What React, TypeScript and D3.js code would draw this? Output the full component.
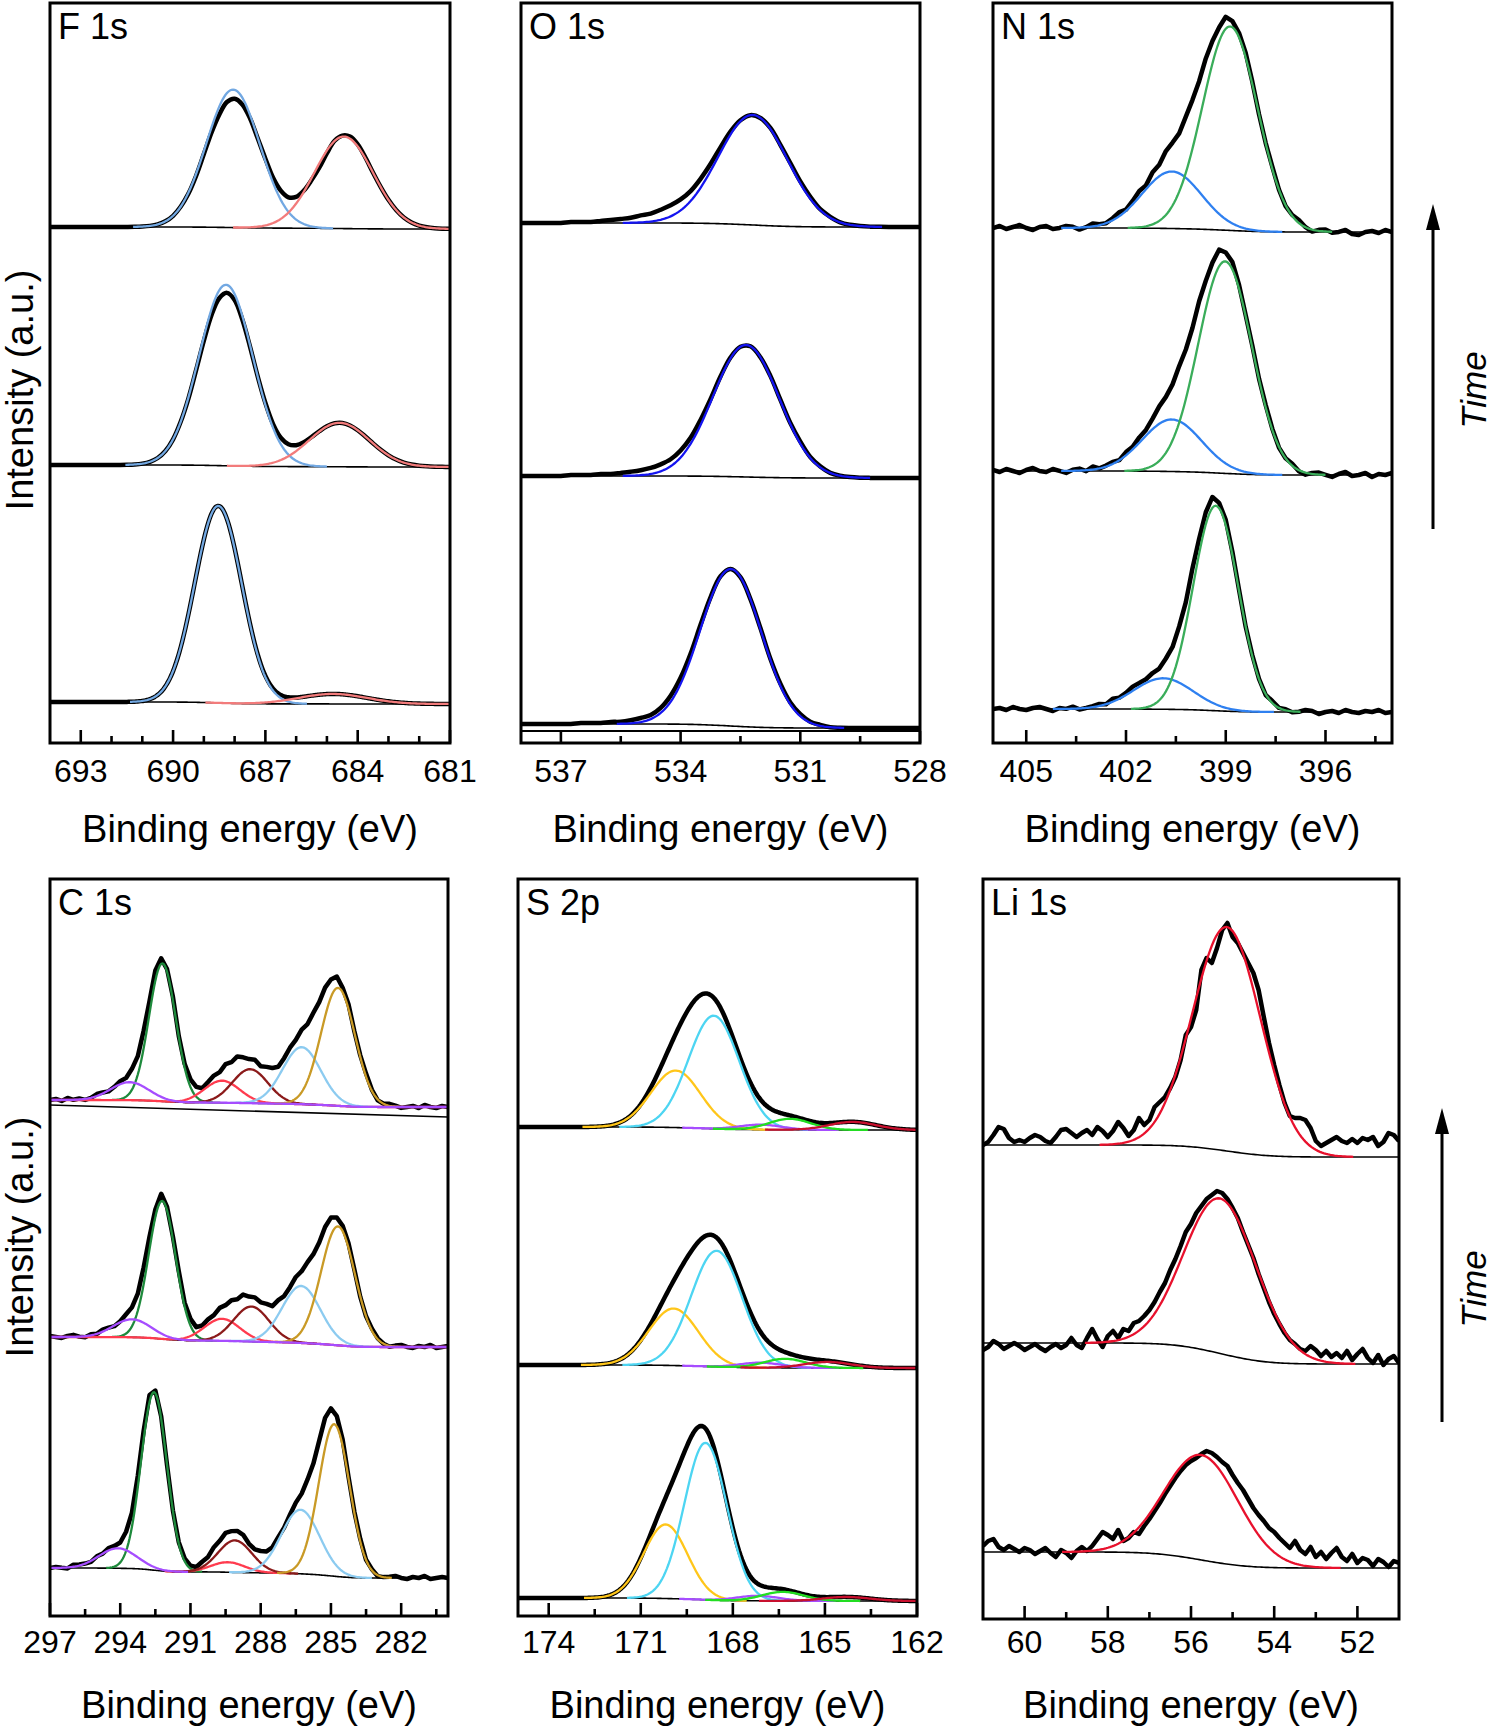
import React from "react";
import * as d3 from "d3";

// Binding-energy windows, plotted high -> low
const F1S_RANGE = [694, 681];
const O1S_RANGE = [538, 528];
const N1S_RANGE = [406, 394];
const C1S_RANGE = [297, 280];
const S2P_RANGE = [175, 162];
const LI1S_RANGE = [61, 51];

// Tick labels and minor ticks
const F1S_TICKS = [693, 690, 687, 684, 681];
const F1S_MINOR = [692, 691, 689, 688, 686, 685, 683, 682];
const O1S_TICKS = [537, 534, 531, 528];
const O1S_MINOR = [535.5, 532.5, 529.5];
const N1S_TICKS = [405, 402, 399, 396];
const N1S_MINOR = [403.5, 400.5, 397.5, 394.5];
const C1S_TICKS = [297, 294, 291, 288, 285, 282];
const C1S_MINOR = [295.5, 292.5, 289.5, 286.5, 283.5, 280.5];
const S2P_TICKS = [174, 171, 168, 165, 162];
const S2P_MINOR = [172.5, 169.5, 166.5, 163.5];
const LI1S_TICKS = [60, 58, 56, 54, 52];
const LI1S_MINOR = [59, 57, 55, 53];

// Fitted components per spectrum (top = latest): [centre eV, height, FWHM eV, half-range drawn]
const F1S_FITS = [
  [[688.05, 138, 2.05], [684.45, 92, 2.25]],
  [[688.28, 181, 2.05], [684.59, 44, 2.3]],
  [[688.53, 197, 1.8], [684.8, 10, 2.6]],
];
const F1S_BG = [[3, 1], [3, 1], [4, 2]];
// measured minus fit, every 0.25 eV from 694 eV
const F1S_RESID = [
  [0, 0, 0, 0, 0, 0, 0, 0, 0, 0, 0, 0, 0, 0, 0, 0, 0, 0, -1, -2, -3, -5, -8, -9, -9, -7, -4, -2, 0, 0, 0, -1, -2, -3, -4, -5, -3, 0, 1, 2, 2, 1, 0, 0, 0, 0, 0, 0, 0, 0, 0, 0, 0],
  [0, 0, 0, 0, 0, 0, 0, 0, 0, 0, 0, 0, 0, 0, 0, 0, 0, 0, -1, -2, -4, -6, -8, -8, -6, -4, -2, -1, 0, 0, 0, 0, 0, 0, 0, 0, 0, 0, 0, 0, 0, 0, 0, 0, 0, 0, 0, 0, 0, 0, 0, 0, 0],
  null,
];

const O1S_FITS = [[[532.19, 110, 2.05]], [[532.36, 132, 1.95]], [[532.74, 157, 1.8]]];
const O1S_BG = [[6, 2], [4, 2], [6, 2]];
// measured minus fit, every 0.25 eV from 538 eV
const O1S_RESID = [
  [0, 0, 0, 0, 0, 1, 1, 1, 2, 3, 4, 5, 7, 8, 10, 11, 11, 10, 9, 7, 5, 3, 1, 0, 0, 1, 1, 2, 2, 2, 1, 1, 0, 0, 0, 0, 0, 0, 0, 0, 0],
  [0, 0, 0, 0, 0, 1, 1, 1, 2, 2, 3, 4, 5, 6, 7, 7, 7, 6, 5, 3, 2, 1, 0, 0, 0, 1, 1, 1, 2, 1, 1, 0, 0, 0, 0, 0, 0, 0, 0, 0, 0],
  [0, 0, 0, 0, 0, 0, 1, 1, 1, 2, 2, 3, 4, 4, 5, 6, 6, 5, 4, 2, 1, 0, 0, 0, 1, 1, 2, 2, 2, 1, 1, 0, 0, 0, 0, 0, 0, 0, 0, 0, 0],
];

const N1S_FITS = [
  [[400.62, 57, 2.1], [398.87, 204, 1.95]],
  [[400.62, 52, 2.1], [399.02, 212, 1.9]],
  [[400.88, 31, 2.1], [399.3, 205, 1.6]],
];
const N1S_BG = [[6, 2], [6, 2], [5, 2]];
// measured minus fit, every 0.2 eV from 406 eV
const N1S_RESID = [
  [0, 2, -1, 1, 3, 0, -2, 1, 2, -1, 0, 2, 1, -2, 0, 3, 1, 0, 2, 4, 1, 3, 5, 2, 6, 4, 8, 6, 3, 5, 4, 2, 3, 0, -2, 1, -1, 0, 2, 1, -1, 0, 2, 0, -1, 1, 3, 0, -2, 1, 2, -1, 0, 2, -2, -3, 0, 1, -1, 2, 0],
  [1, -1, 2, 0, -2, 1, 3, 0, -1, 2, 0, -2, 1, 2, -1, 3, 0, 1, 2, 0, 3, 2, 4, 3, 5, 7, 5, 4, 6, 3, 2, 4, 1, 0, 2, -1, 1, 0, -1, 1, 0, 2, 1, -1, 0, 2, -1, -2, 1, 2, 0, -2, 1, 3, -1, 0, 2, -2, 1, 0, 2],
  [0, 1, -1, 2, 0, -1, 1, 2, 0, -2, 1, 0, 2, -1, 0, 1, 2, 0, 3, 1, 2, 4, 3, 2, 3, 1, 2, 0, 1, -1, 2, 0, 1, 3, 0, 2, 1, 0, -1, 1, 0, -1, 2, 0, 1, -1, 0, 2, 1, -2, 0, 1, -1, 2, 0, -1, 1, 0, 2, -1, 0],
];

// order: green, red, dark red, light blue, gold, then purple on top
const C1S_FITS = [
  [[292.2, 138, 1.35], [289.65, 22, 1.78, 99], [288.45, 34, 1.78], [286.25, 57, 1.92], [284.7, 118, 1.71], [293.6, 18, 1.9, 99]],
  [[292.21, 138, 1.35], [289.65, 22, 1.78, 99], [288.4, 35, 1.78], [286.27, 57, 1.92], [284.7, 119, 1.71], [293.5, 18, 1.9, 99]],
  [[292.56, 178, 1.3], [289.4, 10, 1.7], [289.1, 32, 1.7], [286.3, 64, 1.92], [284.86, 152, 1.55], [294.1, 20, 1.9]],
];
const C1S_BG = [[20, 13], [13, 3], [14, 4]];
const C1S_BASE = [[15, 3], null, null];
// measured minus fit, every 0.25 eV from 297 eV
const C1S_RESID = [
  [0, 1, -1, 2, 0, 1, -1, 0, 2, 1, -1, 0, 2, 1, 3, 2, 4, 2, 3, 1, 0, 2, -1, 1, 3, 2, 0, 2, 3, 1, 4, 2, 5, 3, 2, 4, 1, 3, 2, 0, 2, 4, 3, 5, 2, 3, 1, 2, 0, 1, -1, 2, 0, 1, 3, 1, -1, 0, 2, 1, -1, 0, 1, -1, 2, 0, -1, 1, 0],
  [1, 0, -1, 1, 2, 0, -1, 1, 0, 2, 1, -1, 0, 2, 1, 0, 2, 1, -1, 2, 0, 1, 3, 1, 2, 0, 1, 3, 2, 4, 2, 3, 1, 4, 2, 3, 1, 2, 0, 3, 1, 2, 4, 2, 3, 1, 0, 2, 1, -1, 0, 2, 1, -1, 0, 2, 1, 0, -1, 1, 2, 0, -1, 1, 0, 2, -1, 0, 1],
  [0, 1, 0, -1, 2, 1, 0, -1, 1, 0, 2, 1, 0, 1, -1, 0, 1, 2, 0, 1, -1, 0, 1, 2, 1, 0, 2, 1, 3, 1, 2, 0, 1, 2, 0, 1, 3, 2, 1, 2, 0, 1, 2, 0, 1, -1, 0, 2, 1, 0, 1, -1, 0, 2, 0, 1, -1, 0, 1, 2, 0, -1, 1, 0, 2, -1, 0, 1, 0],
];

const S2P_FITS = [
  [[169.86, 57, 1.9], [168.62, 113, 1.95], [167.1, 5, 1.6], [166.14, 11, 1.6], [164.1, 8, 1.8]],
  [[169.93, 57, 1.9], [168.53, 116, 1.95], [167.1, 5, 1.6], [166.3, 9, 1.6], [164.9, 6, 1.8]],
  [[170.19, 74, 1.68], [168.89, 157, 1.63], [167.2, 5, 1.6], [166.37, 9, 1.6], [164.3, 4, 1.8]],
];
const S2P_BG = [[5, 2], [5, 2], [4, 1]];

const LI1S_FITS = [[[55.14, 224, 1.92]], [[55.3, 155, 2.05]], [[55.75, 105, 2.1]]];
const LI1S_BG = [[15, 3], [23, 2], [20, 4]];
// measured counts, every 0.125 eV from 61 eV
const LI1S_RAW = [
  [15, 18, 25, 33, 31, 22, 18, 20, 18, 22, 25, 23, 19, 17, 23, 30, 31, 27, 23, 27, 30, 25, 33, 29, 23, 29, 38, 32, 24, 30, 42, 35, 40, 53, 58, 63, 72, 83, 100, 125, 133, 150, 190, 202, 197, 212, 230, 237, 223, 217, 207, 197, 187, 170, 143, 117, 95, 75, 57, 44, 42, 42, 40, 32, 19, 14, 17, 20, 23, 19, 17, 21, 17, 22, 20, 23, 14, 18, 27, 25, 19],
  [16, 19, 25, 22, 17, 20, 23, 20, 16, 19, 22, 18, 15, 19, 22, 18, 21, 28, 21, 18, 28, 37, 27, 19, 30, 35, 28, 37, 35, 43, 45, 50, 56, 64, 74, 83, 96, 107, 120, 134, 142, 153, 160, 167, 171, 175, 173, 167, 158, 148, 134, 121, 108, 92, 78, 64, 52, 42, 33, 26, 22, 17, 15, 20, 16, 10, 15, 9, 13, 8, 15, 6, 12, 17, 8, 3, 11, 1, 7, 10, 3],
  [26, 31, 33, 25, 22, 26, 23, 20, 24, 22, 18, 21, 24, 19, 15, 22, 19, 14, 21, 25, 21, 26, 33, 40, 37, 33, 42, 31, 34, 40, 38, 46, 53, 61, 69, 78, 86, 94, 101, 107, 111, 114, 118, 121, 119, 115, 110, 106, 97, 89, 82, 73, 64, 57, 51, 44, 40, 34, 29, 24, 31, 22, 18, 25, 15, 20, 13, 19, 24, 15, 11, 18, 9, 14, 12, 6, 13, 10, 5, 11, 9],
];

const FONT = "'Liberation Sans', Arial, Helvetica, sans-serif";

function erf(x: number) {
  const t = 1 / (1 + 0.3275911 * Math.abs(x));
  const y = 1 - ((((1.061405429 * t - 1.453152027) * t + 1.421413741) * t - 0.284496736) * t + 0.254829592) * t * Math.exp(-x * x);
  return x >= 0 ? y : -y;
}

const gauss = (e: number, p: number[]) => p[1] * Math.exp((-4 * Math.LN2 * (e - p[0]) ** 2) / (p[2] * p[2]));

// Shirley-like step between the high-BE and low-BE background levels
function shirley(e: number, peaks: number[][], bg: number[]) {
  let num = 0;
  let den = 0;
  for (const p of peaks) {
    const s = p[2] / 2.3548;
    const a = p[1] * s;
    num += a * 0.5 * (1 + erf((e - p[0]) / (s * Math.SQRT2)));
    den += a;
  }
  return bg[1] + (bg[0] - bg[1]) * (num / den);
}

type Spec = { peaks: number[][]; bg: number[]; raw?: number[]; resid?: number[] | null; base?: number[] | null };
type PanelCfg = {
  name: string;
  range: number[];
  ticks: number[];
  minor: number[];
  colors: string[];
  spectra: Spec[];
  step: number;
  curve: d3.CurveFactory;
  x0: number;
  x1: number;
  top: number;
  bottom: number;
  zero: number[];
  tickY: number;
  titleY: number;
  axisY?: number;
};

const specs = (fits: number[][][], bgs: number[][], extra?: (k: number) => Partial<Spec>): Spec[] =>
  fits.map((peaks, k) => ({ peaks, bg: bgs[k], ...(extra ? extra(k) : {}) }));

const ROW1 = { top: 3, bottom: 743, tickY: 782, titleY: 842 };
const ROW2 = { top: 879, bottom: 1616, tickY: 1653, titleY: 1718 };

const PANELS: PanelCfg[] = [
  {
    name: "F 1s", range: F1S_RANGE, ticks: F1S_TICKS, minor: F1S_MINOR,
    colors: ["#72a8e2", "#f27b7b"], spectra: specs(F1S_FITS, F1S_BG, (k) => ({ resid: F1S_RESID[k] })),
    step: 0.25, curve: d3.curveCatmullRom, x0: 50, x1: 450, ...ROW1, zero: [230, 468, 706],
  },
  {
    name: "O 1s", range: O1S_RANGE, ticks: O1S_TICKS, minor: O1S_MINOR,
    colors: ["#1414f0"], spectra: specs(O1S_FITS, O1S_BG, (k) => ({ resid: O1S_RESID[k] })),
    step: 0.25, curve: d3.curveCatmullRom, x0: 521, x1: 920, ...ROW1, zero: [229, 480, 730], axisY: 731,
  },
  {
    name: "N 1s", range: N1S_RANGE, ticks: N1S_TICKS, minor: N1S_MINOR,
    colors: ["#2f80f0", "#3aad5a"], spectra: specs(N1S_FITS, N1S_BG, (k) => ({ resid: N1S_RESID[k] })),
    step: 0.2, curve: d3.curveLinear, x0: 993, x1: 1392, ...ROW1, zero: [234, 477, 714],
  },
  {
    name: "C 1s", range: C1S_RANGE, ticks: C1S_TICKS, minor: C1S_MINOR,
    colors: ["#1e8a3c", "#ff3b4e", "#8b1a1a", "#8ccbf0", "#c99a26", "#a64dff"],
    spectra: specs(C1S_FITS, C1S_BG, (k) => ({ base: C1S_BASE[k], resid: C1S_RESID[k] })),
    step: 0.25, curve: d3.curveLinear, x0: 50, x1: 448, ...ROW2, zero: [1120, 1350, 1582],
  },
  {
    name: "S 2p", range: S2P_RANGE, ticks: S2P_TICKS, minor: S2P_MINOR,
    colors: ["#ffc61a", "#4dd5f2", "#a64dff", "#22dd22", "#c8102e"], spectra: specs(S2P_FITS, S2P_BG),
    step: 0.05, curve: d3.curveLinear, x0: 518, x1: 917, ...ROW2, zero: [1132, 1370, 1602],
  },
  {
    name: "Li 1s", range: LI1S_RANGE, ticks: LI1S_TICKS, minor: LI1S_MINOR,
    colors: ["#e8112d"], spectra: specs(LI1S_FITS, LI1S_BG, (k) => ({ raw: LI1S_RAW[k] })),
    step: 0.125, curve: d3.curveLinear, x0: 983, x1: 1399, ...ROW2, bottom: 1619, zero: [1160, 1366, 1572],
  },
];

function SpectraPanel({ cfg }: { cfg: PanelCfg }) {
  const [hi, lo] = cfg.range;
  const x = d3.scaleLinear().domain(cfg.range).range([cfg.x0, cfg.x1]);
  const fine = d3.range(hi, lo - 1e-6, -0.05);
  const clipId = "clip-" + cfg.name.replace(/\s/g, "");

  const traces = cfg.spectra.map((s, k) => {
    const zero = cfg.zero[k];
    const y = d3.scaleLinear().domain([0, 100]).range([zero, zero - 100]);
    const line = d3.line<number[]>().x((d) => x(d[0])).y((d) => y(d[1]));
    const bgAt = (e: number) => shirley(e, s.peaks, s.bg);
    const fit = (e: number) => bgAt(e) + d3.sum(s.peaks, (p) => gauss(e, p));

    let measured: number[][];
    if (s.raw) measured = s.raw.map((v, i) => [hi - i * cfg.step, v]);
    else if (s.resid) measured = s.resid.map((r, i) => {
      const e = hi - i * cfg.step;
      return [e, fit(e) + r];
    });
    else measured = fine.map((e) => [e, fit(e)]);

    const comps = s.peaks.map((p) => {
      const reach = p[3] ?? 1.6 * p[2];
      const pts = fine.filter((e) => Math.abs(e - p[0]) <= reach).map((e) => [e, bgAt(e) + gauss(e, p)]);
      return line(pts);
    });

    return (
      <g key={k}>
        <path d={line.curve(cfg.curve)(measured) ?? ""} fill="none" stroke="#000" strokeWidth={4.5} strokeLinejoin="round" />
        <path d={line.curve(d3.curveLinear)(fine.map((e) => [e, bgAt(e)])) ?? ""} fill="none" stroke="#000" strokeWidth={1.6} />
        {s.base && (
          <path d={line([[hi, s.base[0]], [lo, s.base[1]]]) ?? ""} fill="none" stroke="#000" strokeWidth={1.6} />
        )}
        {comps.map((d, j) => (
          <path key={j} d={d ?? ""} fill="none" stroke={cfg.colors[j]} strokeWidth={2.3} />
        ))}
      </g>
    );
  });

  const b = cfg.bottom;
  return (
    <g>
      <defs>
        <clipPath id={clipId}>
          <rect x={cfg.x0} y={cfg.top} width={cfg.x1 - cfg.x0} height={b - cfg.top} />
        </clipPath>
      </defs>
      <g clipPath={`url(#${clipId})`}>{traces}</g>
      {cfg.axisY && <line x1={cfg.x0} x2={cfg.x1} y1={cfg.axisY} y2={cfg.axisY} stroke="#000" strokeWidth={2} />}
      {cfg.ticks.map((t) => (
        <line key={"M" + t} x1={x(t)} x2={x(t)} y1={b} y2={cfg.axisY ?? b - 13} stroke="#000" strokeWidth={2.6} />
      ))}
      {cfg.minor.map((t) => (
        <line key={"m" + t} x1={x(t)} x2={x(t)} y1={b} y2={b - 7} stroke="#000" strokeWidth={2.6} />
      ))}
      <rect x={cfg.x0} y={cfg.top} width={cfg.x1 - cfg.x0} height={b - cfg.top} fill="none" stroke="#000" strokeWidth={3} />
      <text x={cfg.x0 + 8} y={cfg.top + 36} fontSize={36}>{cfg.name}</text>
      {cfg.ticks.map((t) => (
        <text key={"l" + t} x={x(t)} y={cfg.tickY} fontSize={32} textAnchor="middle">{t}</text>
      ))}
      <text x={(cfg.x0 + cfg.x1) / 2} y={cfg.titleY} fontSize={38} textAnchor="middle">Binding energy (eV)</text>
    </g>
  );
}

function TimeArrow({ x, tail, tip }: { x: number; tail: number; tip: number }) {
  return (
    <g>
      <line x1={x} x2={x} y1={tail} y2={tip + 20} stroke="#000" strokeWidth={3} />
      <path d={`M${x},${tip} L${x - 7},${tip + 26} L${x + 7},${tip + 26} Z`} fill="#000" />
    </g>
  );
}

export default function App() {
  return (
    <svg width={1496} height={1728} fontFamily={FONT} style={{ position: "absolute", left: 0, top: 0, background: "#fff" }}>
      <rect width={1496} height={1728} fill="#fff" />
      {PANELS.map((p) => (
        <SpectraPanel key={p.name} cfg={p} />
      ))}
      <text transform="translate(33,390) rotate(-90)" fontSize={38} textAnchor="middle">Intensity (a.u.)</text>
      <text transform="translate(33,1237) rotate(-90)" fontSize={38} textAnchor="middle">Intensity (a.u.)</text>
      <TimeArrow x={1433} tail={529} tip={204} />
      <TimeArrow x={1442} tail={1422} tip={1108} />
      <text transform="translate(1486,390) rotate(-90)" fontSize={35} fontStyle="italic" textAnchor="middle">Time</text>
      <text transform="translate(1486,1289) rotate(-90)" fontSize={35} fontStyle="italic" textAnchor="middle">Time</text>
    </svg>
  );
}
